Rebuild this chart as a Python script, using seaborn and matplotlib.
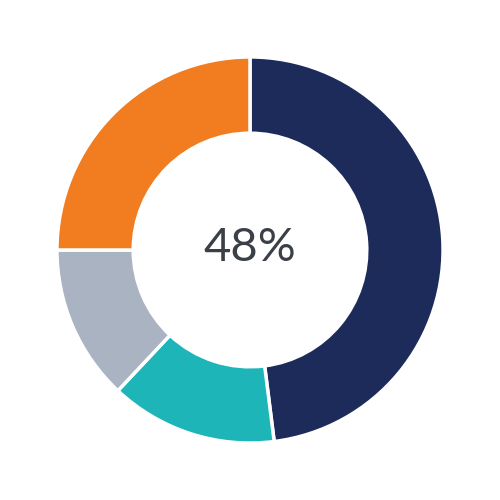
import matplotlib
matplotlib.use("Agg")
import matplotlib.pyplot as plt
import seaborn as sns

sns.set_theme(style="white")
plt.rcParams['font.family'] = ['Lato', 'DejaVu Sans']

categories = ["Navy", "Teal", "Gray", "Orange"]
values = [48, 14, 13, 25]
colors = ["#1c2b5a", "#1db5b8", "#a9b3c1", "#f27d21"]
center_label = "48%"

fig = plt.figure(figsize=(5, 5), dpi=100)
ax = fig.add_axes([0, 0, 1, 1])
ax.pie(values, colors=colors, startangle=90, counterclock=False,
       radius=1.0,
       wedgeprops=dict(width=0.395, edgecolor="white", linewidth=2.5))
ax.text(0, 0.01, center_label, ha="center", va="center", fontsize=34,
        fontweight="normal", color="#3b4048")
ax.set_xlim(-1.295, 1.295)
ax.set_ylim(-1.295, 1.295)
ax.set_aspect("equal")
ax.axis("off")
fig.savefig("out.png", dpi=100, facecolor="white")
